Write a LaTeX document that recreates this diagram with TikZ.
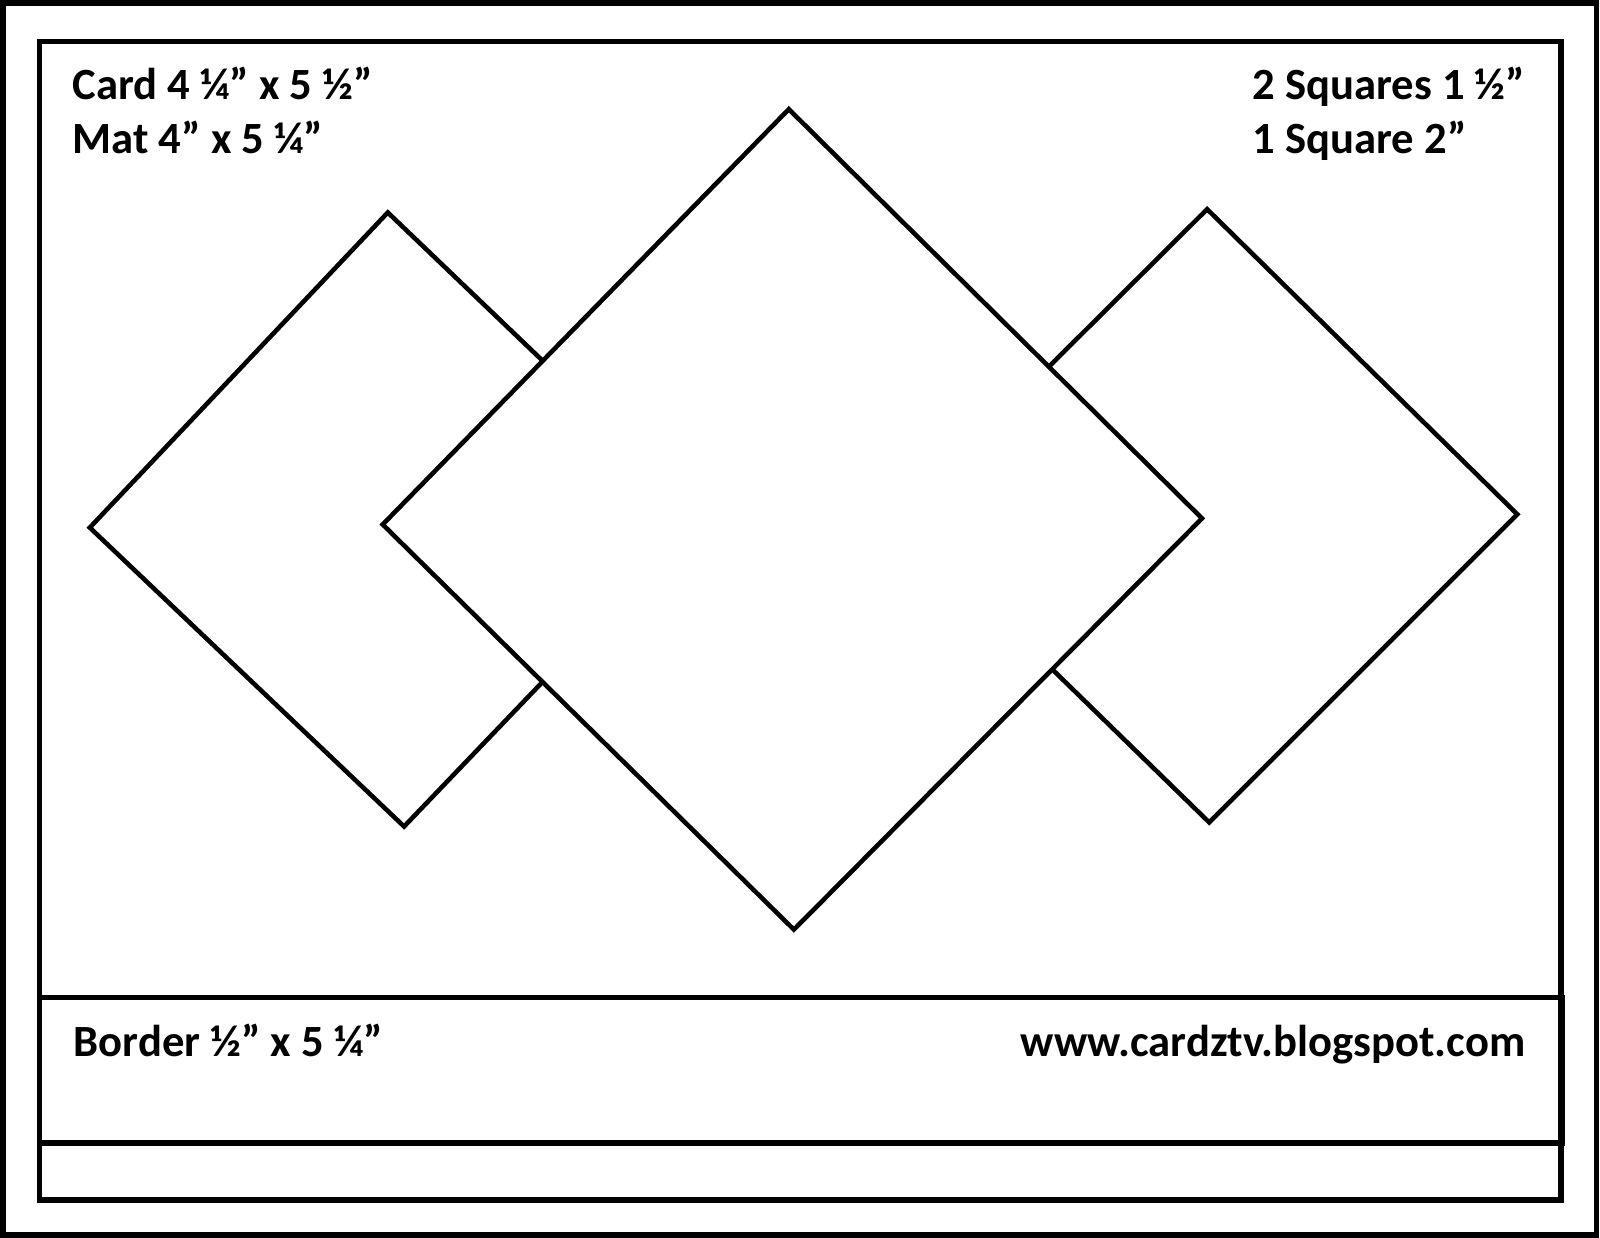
\documentclass[tikz,border=0pt]{standalone}
\usepackage{fontspec}
\setmainfont{Carlito}
\begin{document}
\begin{tikzpicture}[x=0.1mm, y=-0.1mm]
\tikzset{frame/.style={line width=1.65pt},
  sq/.style={line width=1.3pt, fill=white},
  lbl/.style={font=\bfseries\fontsize{12.7}{15}\selectfont, inner sep=0pt}}
\useasboundingbox (0,0) rectangle (1600,1238);
\draw[frame] (3,3) rectangle (1596.5,1235);
\draw[frame] (39.5,41.5) rectangle (1561,1200);
\draw[frame] (39.5,997.5) rectangle (1562,1143);
\coordinate (lt) at (387.8,212.5);
\coordinate (ll) at (89.8,527.6);
\coordinate (lb) at (404.1,826.5);
\coordinate (lr) at (703,514.3);
\coordinate (rt) at (1207.1,209.2);
\coordinate (rr) at (1517.3,514.3);
\coordinate (rb) at (1209.2,822.4);
\coordinate (rl) at (897,517.9);
\coordinate (bt) at (788.8,109.2);
\coordinate (br) at (1202,518.4);
\coordinate (bb) at (793.9,929.6);
\coordinate (bl) at (382.7,524.5);
\draw[sq] (lt) -- (ll) -- (lb) -- (lr) -- cycle;
\draw[sq] (rt) -- (rr) -- (rb) -- (rl) -- cycle;
\draw[sq] (bt) -- (br) -- (bb) -- (bl) -- cycle;
\node[lbl, anchor=base west] (card) at (72,100) {Card 4 ¼” x 5 ½”};
\node[lbl, anchor=base west] (mat) at (72,154) {Mat 4” x 5 ¼”};
\node[lbl, anchor=base west] (squares) at (1252,100) {2 Squares 1 ½”};
\node[lbl, anchor=base west] (square) at (1252,154) {1 Square 2”};
\node[lbl, anchor=base west] (border) at (73,1057) {Border ½” x 5 ¼”};
\node[lbl, anchor=base east] (web) at (1526,1057) {www.cardztv.blogspot.com};
\end{tikzpicture}
\end{document}
